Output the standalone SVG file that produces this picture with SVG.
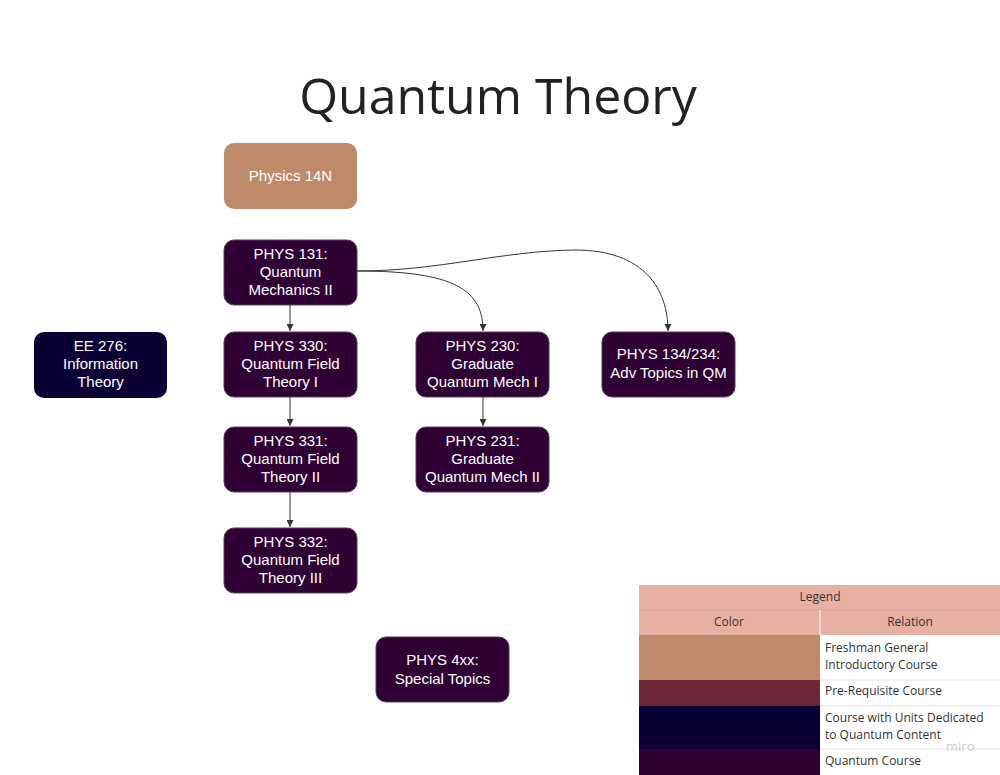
<svg xmlns="http://www.w3.org/2000/svg" width="1000" height="775" viewBox="0 0 1000 775">
<style>
.n{fill:#2e0033;stroke:#5a3a5e;stroke-width:1}
.t{font-family:"Liberation Sans",Arial,sans-serif;font-size:15px;fill:#fff;text-anchor:middle}
.e{fill:none;stroke:#333;stroke-width:1}
.l{font-family:"Open Sans",sans-serif;font-size:12px;fill:#333}
</style>
<defs><marker id="a" viewBox="0 0 10 10" refX="10" refY="5" markerWidth="7" markerHeight="7" orient="auto"><path d="M0,0L10,5L0,10z" fill="#333"/></marker></defs>
<rect width="1000" height="775" fill="#fff"/>
<text x="498" y="114" font-family="Open Sans,sans-serif" font-size="50" fill="#222" text-anchor="middle">Quantum Theory</text>
<g id="connectors">
<path class="e" marker-end="url(#a)" d="M290,305V331"/>
<path class="e" marker-end="url(#a)" d="M290,397V426"/>
<path class="e" marker-end="url(#a)" d="M290,492V527"/>
<path class="e" marker-end="url(#a)" d="M483,397V426"/>
<path class="e" marker-end="url(#a)" d="M357,271C455,271 483,290 483,331"/>
<path class="e" marker-end="url(#a)" d="M357,271C440,271 500,251 575,250C645,250 668,290 668,331"/>
</g>
<g id="p14n"><rect x="224" y="143" width="133" height="66" rx="10" fill="#be8a6a"/><text class="t" x="290.5" y="181">Physics 14N</text></g>
<g id="p131"><rect class="n" x="224" y="240" width="133" height="65" rx="10"/><text class="t" x="290.5" y="259">PHYS 131:</text><text class="t" x="290.5" y="277">Quantum</text><text class="t" x="290.5" y="295">Mechanics II</text></g>
<g id="ee276"><rect x="34" y="332" width="133" height="66" rx="10" fill="#0b0033"/><text class="t" x="100.5" y="351">EE 276:</text><text class="t" x="100.5" y="369">Information</text><text class="t" x="100.5" y="387">Theory</text></g>
<g id="p330"><rect class="n" x="224" y="332" width="133" height="65" rx="10"/><text class="t" x="290.5" y="351">PHYS 330:</text><text class="t" x="290.5" y="369">Quantum Field</text><text class="t" x="290.5" y="387">Theory I</text></g>
<g id="p230"><rect class="n" x="416" y="332" width="133" height="65" rx="10"/><text class="t" x="482.5" y="351">PHYS 230:</text><text class="t" x="482.5" y="369">Graduate</text><text class="t" x="482.5" y="387">Quantum Mech I</text></g>
<g id="p134"><rect class="n" x="602" y="332" width="133" height="65" rx="10"/><text class="t" x="668.5" y="359">PHYS 134/234:</text><text class="t" x="668.5" y="378">Adv Topics in QM</text></g>
<g id="p331"><rect class="n" x="224" y="427" width="133" height="65" rx="10"/><text class="t" x="290.5" y="446">PHYS 331:</text><text class="t" x="290.5" y="464">Quantum Field</text><text class="t" x="290.5" y="482">Theory II</text></g>
<g id="p231"><rect class="n" x="416" y="427" width="133" height="65" rx="10"/><text class="t" x="482.5" y="446">PHYS 231:</text><text class="t" x="482.5" y="464">Graduate</text><text class="t" x="482.5" y="482">Quantum Mech II</text></g>
<g id="p332"><rect class="n" x="224" y="528" width="133" height="65" rx="10"/><text class="t" x="290.5" y="547">PHYS 332:</text><text class="t" x="290.5" y="565">Quantum Field</text><text class="t" x="290.5" y="583">Theory III</text></g>
<g id="p4xx"><rect class="n" x="376" y="637" width="133" height="65" rx="10"/><text class="t" x="442.5" y="665">PHYS 4xx:</text><text class="t" x="442.5" y="684">Special Topics</text></g>
<g id="legend">
<rect x="639" y="585" width="361" height="50" fill="#e8b0a2"/>
<line x1="639" y1="610" x2="1000" y2="610" stroke="#d9a090"/>
<line x1="820" y1="610" x2="820" y2="635" stroke="#fff"/>
<text class="l" x="820" y="601" text-anchor="middle">Legend</text>
<text class="l" x="729" y="626" text-anchor="middle">Color</text>
<text class="l" x="910" y="626" text-anchor="middle">Relation</text>
<rect x="639" y="635" width="181" height="45" fill="#be8a6a"/>
<rect x="639" y="680" width="181" height="26" fill="#6d2636"/>
<rect x="639" y="706" width="181" height="43" fill="#0b0033"/>
<rect x="639" y="749" width="181" height="26" fill="#2e0033"/>
<rect x="820" y="635" width="180" height="140" fill="#fff"/>
<g stroke="#e4e4e4"><line x1="820" y1="680" x2="1000" y2="680"/><line x1="820" y1="706" x2="1000" y2="706"/><line x1="820" y1="749" x2="1000" y2="749"/></g>
<text class="l" x="825" y="652">Freshman General</text>
<text class="l" x="825" y="669">Introductory Course</text>
<text class="l" x="825" y="695">Pre-Requisite Course</text>
<text class="l" x="825" y="722">Course with Units Dedicated</text>
<text class="l" x="825" y="739">to Quantum Content</text>
<text class="l" x="825" y="765">Quantum Course</text>
<text x="946" y="751" font-family="Open Sans,sans-serif" font-size="13" fill="#ccc">miro</text>
</g>
</svg>
